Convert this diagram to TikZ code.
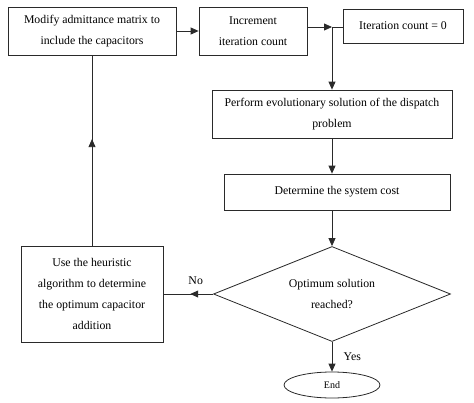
\documentclass[tikz,border=0pt]{standalone}
\usepackage{fontspec}
\setmainfont{Liberation Serif}
\usepackage{tikz}
\usetikzlibrary{arrows.meta,positioning,calc,shapes.geometric,decorations.markings}
\definecolor{linegray}{HTML}{2A2A2A}

\tikzset{
  flowbox/.style={draw=linegray,line width=0.8pt,align=center,inner sep=2pt,font=\fontsize{11.8}{21}\selectfont},
  flowarrow/.style={-{Triangle[length=8pt,width=7pt]},draw=linegray,line width=0.8pt},
  flowline/.style={draw=linegray,line width=0.8pt},
  midarrow/.style={postaction={decorate},decoration={markings,mark=at position #1 with {\arrow{Triangle[length=8pt,width=7pt]}}}}
}

\begin{document}
\begin{tikzpicture}[x=1pt,y=-1pt]
    \useasboundingbox (0,0) rectangle (474,402);
    \node[flowbox,minimum width=168pt,minimum height=48pt] (modify) at (92,31) {Modify admittance matrix to\\include the capacitors};
    \node[flowbox,minimum width=108pt,minimum height=48pt] (incr) at (253,31) {Increment\\iteration count};
    \node[flowbox,minimum width=120pt,minimum height=34pt] (init) at (403,26) {Iteration count = 0};
    \node[flowbox,minimum width=240pt,minimum height=48pt] (evol) at (332,114) {Perform evolutionary solution of the dispatch\\problem};
    \node[flowbox,minimum width=226pt,minimum height=36pt] (cost) at (337,192) {Determine the system cost};
    \node[flowbox,diamond,aspect=2.5,inner sep=0pt,minimum width=237pt,minimum height=95pt] (optim) at (332,294) {Optimum solution\\reached?};
    \node[flowbox,minimum width=142pt,minimum height=96pt] (heur) at (92,294) {Use the heuristic\\algorithm to determine\\the optimum capacitor\\addition};
    \node[flowbox,ellipse,inner sep=0pt,minimum width=96pt,minimum height=26pt,font=\fontsize{10}{12}\selectfont] (finish) at (332,385) {End};
    \coordinate (join) at (332,27);

    \draw[flowarrow] (modify) -- (incr);
    \draw[flowarrow] (incr.east |- join) -- (join);
    \draw[flowline] (init.west |- join) -- (join);
    \draw[flowarrow] (join) -- (evol.north);
    \draw[flowarrow] (evol.south) -- (evol.south |- cost.north);
    \draw[flowarrow] (cost.south -| optim.north) -- (optim.north);
    \draw[flowline,midarrow=0.46] (optim.west) -- node[pos=0.35,above=6pt,font=\fontsize{11.8}{12}\selectfont]{No} (heur.east);
    \draw[flowline,midarrow=0.56] (heur.north) -- (modify.south);
    \draw[flowarrow] (optim.south) -- node[right=8pt,font=\fontsize{11.8}{12}\selectfont]{Yes} (finish.north);
  \end{tikzpicture}
\end{document}
